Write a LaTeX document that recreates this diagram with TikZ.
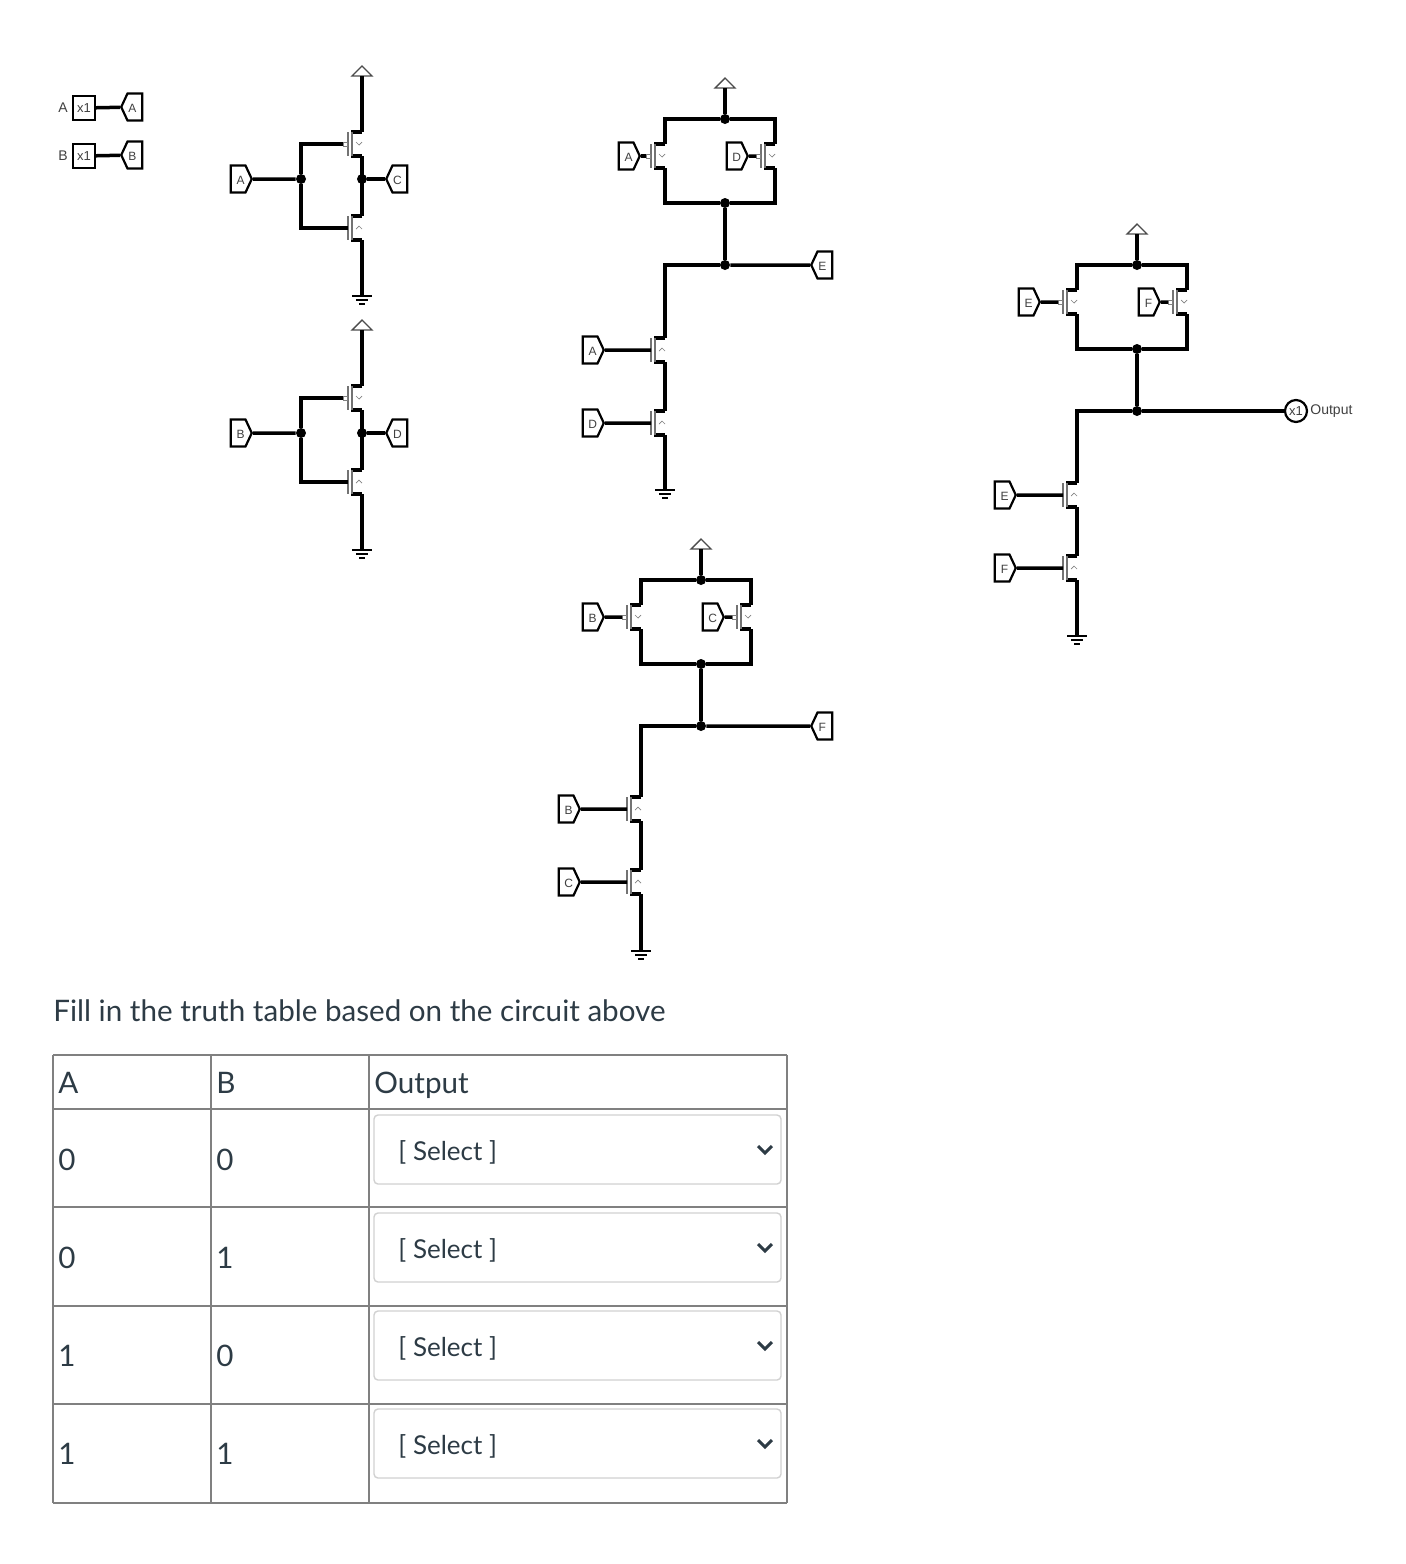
\documentclass[tikz,border=0pt]{standalone}
\usepackage{fontspec}
\setmainfont{Lato}
\newfontfamily\circfont{Liberation Sans}
\usetikzlibrary{shapes.symbols}
\definecolor{canvastext}{HTML}{2D3B45}

\begin{document}
\begin{tikzpicture}[x=0.5pt,y=-0.5pt,line cap=butt]
	\tikzstyle{wire}=[line width=1.75pt,draw=black];
	\tikzstyle{thinwire}=[line width=0.6pt,draw=black];
	\tikzstyle{fetbar}=[line width=0.9pt,draw=black!55];
	\tikzstyle{fetmark}=[line width=0.35pt,draw=black!50];
	\tikzstyle{dot}=[circle,fill=black,inner sep=0pt,minimum size=5pt];
	\tikzstyle{tag}=[draw=black,line width=1.1pt,fill=white,inner sep=0pt,minimum width=10.5pt,minimum height=13.5pt,shape=signal,signal from=nowhere,signal pointer angle=130,font=\circfont\fontsize{6}{7}\selectfont,text=black!75,text height=5.4pt,text depth=0pt];
	\tikzstyle{tagr}=[tag,signal to=east,anchor=east,execute at begin node={\kern2.5pt}];
	\tikzstyle{tagl}=[tag,signal to=west,anchor=west,execute at end node={\kern2.5pt}];
	\tikzstyle{probe}=[draw=black,line width=1.1pt,fill=white,inner sep=0pt,minimum width=11pt,minimum height=12pt,font=\circfont\fontsize{6.5}{7}\selectfont,text=black!75];
	\tikzstyle{small}=[inner sep=0pt,font=\circfont\fontsize{7}{8}\selectfont,text=black!75];
	\tikzstyle{body}=[inner sep=0pt,anchor=base west,font=\fontsize{14.8}{17}\selectfont,text=canvastext];
	\tikzstyle{grid}=[line width=1pt,draw=black!50];
	\tikzstyle{selectbox}=[line width=0.7pt,draw=black!18,fill=white,rounded corners=2pt];
	\tikzset{
		pfet/.pic={
			\coordinate (-t) at (0,-12); \coordinate (-b) at (0,12); \coordinate (-g) at (-19,0);
			\draw[wire] (0,-12) -- (-11,-12); \draw[wire] (0,12) -- (-11,12);
			\draw[fetbar] (-10,-12) -- (-10,12); \draw[fetbar] (-14,-12) -- (-14,12);
			\draw[fetmark,fill=white] (-19,-2) rectangle (-15,2);
			\draw[fetmark] (-6,-2) -- (-3,1) -- (0,-2);
		},
		nfet/.pic={
			\coordinate (-t) at (0,-12); \coordinate (-b) at (0,12); \coordinate (-g) at (-14,0);
			\draw[wire] (0,-12) -- (-11,-12); \draw[wire] (0,12) -- (-11,12);
			\draw[fetbar] (-10,-12) -- (-10,12); \draw[fetbar] (-14,-12) -- (-14,12);
			\draw[fetmark] (-6,1) -- (-3,-2) -- (0,1);
		},
		vdd/.pic={
			\coordinate (-b) at (0,0);
			\draw[line width=0.7pt,draw=black!70,fill=white] (-10,0) -- (0,-10) -- (10,0) -- cycle;
		},
		gnd/.pic={
			\coordinate (-t) at (0,0);
			\draw[thinwire] (-10,0) -- (10,0);
			\draw[thinwire] (-6,4) -- (6,4);
			\draw[thinwire] (-3,8) -- (3,8);
		},
	}
	\useasboundingbox (0,0) rectangle (1406,1564);

	% inputs
	\foreach \n/\y in {A/107,B/155}{
		\node[probe] (in\n) at (84,\y+1) {x1};
		\node[small] (lab\n) at (63,\y+1) {\n};
		\node[tagl] (tag\n) at (120,\y) {\n};
		\draw[wire] (in\n) -- (tag\n);
	}

	% inverters
	\foreach \n/\y/\la/\lo in {iA/0/A/C,iB/254/B/D}{
		\begin{scope}[shift={(362,\y)}]
			\pic (\n p) at (0,144) {pfet};
			\pic (\n q) at (0,228) {nfet};
			\pic (\n vdd) at (0,76) {vdd};
			\pic (\n gnd) at (0,296) {gnd};
			\node[dot] (\n in) at (-61,179) {};
			\node[dot] (\n out) at (0,179) {};
			\node[tagr] (\n tagin) at (-109,179) {\la};
			\node[tagl] (\n tagout) at (23,179) {\lo};
			\draw[wire] (\n vdd-b) -- (\n p-t);
			\draw[wire] (\n p-b) -- (\n q-t);
			\draw[wire] (\n q-b) -- (\n gnd-t);
			\draw[wire] (\n tagin) -- (\n in);
			\draw[wire] (\n in) |- (\n p-g);
			\draw[wire] (\n in) |- (\n q-g);
			\draw[wire] (\n out) -- (\n tagout);
		\end{scope}
	}

	% nand gates
	\foreach \n/\x/\y/\la/\lb/\tip/\dq in {nA/725/119/A/D/-84/0,nB/701/580/B/C/-96/-2,nC/1137/265/E/F/-96/-1}{
		\begin{scope}[shift={(\x,\y)}]
			\pic (\n vdd) at (0,-31) {vdd};
			\node[dot] (\n top) at (0,0) {};
			\node[dot] (\n lo) at (0,84) {};
			\node[dot] (\n out) at (0,146) {};
			\pic (\n p1) at (-60,37) {pfet};
			\pic (\n p2) at (50,37) {pfet};
			\pic (\n q1) at (-60,231+\dq) {nfet};
			\pic (\n q2) at (-60,304+\dq) {nfet};
			\pic (\n gnd) at (-60,371) {gnd};
			\node[tagr] (\n t1) at (\tip,37) {\la};
			\node[tagr] (\n t2) at (24,37) {\lb};
			\node[tagr] (\n t3) at (-120,231+\dq) {\la};
			\node[tagr] (\n t4) at (-120,304+\dq) {\lb};
			\draw[wire] (\n vdd-b) -- (\n top);
			\draw[wire] (\n p1-t) |- (\n top);
			\draw[wire] (\n p2-t) |- (\n top);
			\draw[wire] (\n p1-b) |- (\n lo);
			\draw[wire] (\n p2-b) |- (\n lo);
			\draw[wire] (\n lo) -- (\n out);
			\draw[wire] (\n out) -| (\n q1-t);
			\draw[wire] (\n q1-b) -- (\n q2-t);
			\draw[wire] (\n q2-b) -- (\n gnd-t);
			\draw[wire] (\n t1) -- (\n p1-g);
			\draw[wire] (\n t2) -- (\n p2-g);
			\draw[wire] (\n t3) -- (\n q1-g);
			\draw[wire] (\n t4) -- (\n q2-g);
		\end{scope}
	}

	% outputs
	\node[tagl] (tagE) at (810,265) {E};
	\draw[wire] (nAout) -- (tagE);
	\node[tagl] (tagF) at (810,726) {F};
	\draw[wire] (nBout) -- (tagF);
	\node[probe,circle,minimum width=11pt,minimum height=11pt] (res) at (1296,411) {x1};
	\node[small,anchor=west] (reslab) at (1310,411) {Output};
	\draw[wire] (nCout) -- (res);

	% truth table
	\node[body] (ask) at (53,1021) {Fill in the truth table based on the circuit above};
	\foreach \x in {53,211,369,787} \draw[grid] (\x,1055) -- (\x,1503);
	\foreach \y in {1055,1109,1207,1306,1404,1503} \draw[grid] (53,\y) -- (787,\y);
	\node[body] (headA) at (58,1093) {A};
	\node[body] (headB) at (216,1093) {B};
	\node[body] (headO) at (374,1093) {Output};
	\foreach \i/\y/\a/\b in {1/1169/0/0,2/1267/0/1,3/1365/1/0,4/1463/1/1}{
		\node[body] (a\i) at (58,\y+1) {\a};
		\node[body] (b\i) at (216,\y+1) {\b};
		\draw[selectbox] (374,\y-54) rectangle (781,\y+15);
		\node[body,font=\fontsize{13}{15}\selectfont] (sel\i) at (398,\y-9) {[ Select ]};
		\draw[line width=1.5pt,draw=canvastext] (758,\y-23) -- (765,\y-16) -- (772,\y-23);
	}
\end{tikzpicture}
\end{document}
